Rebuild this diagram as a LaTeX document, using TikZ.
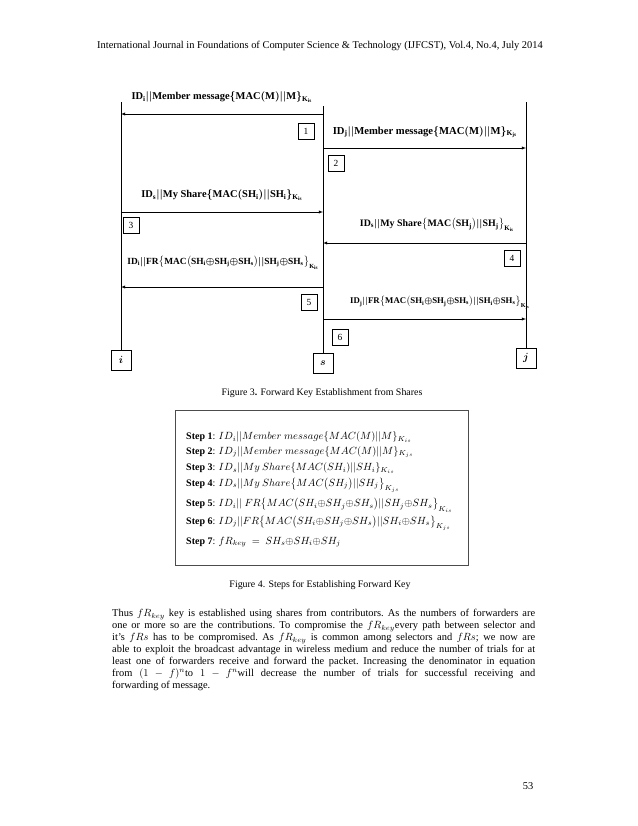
\documentclass[tikz,border=0pt]{standalone}
\usepackage{amsmath,amssymb}
\usepackage{fontspec}
\setmainfont{Liberation Serif}
\usetikzlibrary{positioning}

\begin{document}
\begin{tikzpicture}[x=0.9592pt,y=-0.9592pt,>=latex,
  numbox/.style={draw,minimum size=15pt,inner sep=0pt,font=\fontsize{9}{10}\selectfont},
  partybox/.style={draw,minimum size=19pt,inner sep=0pt},
  msg/.style={font=\fontsize{#1}{11}\selectfont\boldmath,inner sep=1pt},
  msg/.default=10,
  stepline/.style={anchor=west,inner sep=0pt,font=\fontsize{9.6}{12}\selectfont},
  plain/.style={font=\fontsize{10}{12}\selectfont,inner sep=0pt}]
\useasboundingbox[fill=white] (0,0) rectangle (638,826);
\node[plain] (header) at (320,46) {International Journal in Foundations of Computer Science \& Technology (IJFCST), Vol.4, No.4, July 2014};

% parties and lifelines
\node[partybox] (i) at (121,360) {$\boldsymbol{i}$};
\node[partybox] (s) at (323,363) {$\boldsymbol{s}$};
\node[partybox] (j) at (526,358) {$\boldsymbol{j}$};
\coordinate (itop) at (121,102);
\coordinate (stop) at (323,106);
\coordinate (jtop) at (526,102);
\draw (itop) -- (i.north);
\draw (stop) -- (s.north);
\draw (jtop) -- (j.north);

% messages
\foreach \y/\from/\to in {114/s/i,148/s/j,212/i/s,243/j/s,287/s/i,319/s/j}
  \draw[->] (\from |- 0,\y) -- (\to |- 0,\y);

\node[msg] (m1) at (222,97) {$\mathrm{ID_i||Member\ message\{MAC(M)||M\}_{K_{is}}}$};
\node[msg=10.2] (m2) at (425,132) {$\mathrm{ID_j||Member\ message\{MAC(M)||M\}_{K_{js}}}$};
\node[msg] (m3) at (222,195) {$\mathrm{ID_s||My\ Share\{MAC(SH_i)||SH_i\}_{K_{is}}}$};
\node[msg=9.5] (m4) at (437,225) {$\mathrm{ID_s||My\ Share\bigl\{MAC\bigl(SH_j\bigr)||SH_j\bigr\}_{K_{is}}}$};
\node[msg=9] (m5) at (223,263) {$\mathrm{ID_i||FR\bigl\{MAC\bigl(SH_i{\oplus}SH_j{\oplus}SH_s\bigr)||SH_j{\oplus}SH_s\bigr\}_{K_{is}}}$};
\node[msg=8.4] (m6) at (440,303) {$\mathrm{ID_j||FR\bigl\{MAC\bigl(SH_i{\oplus}SH_j{\oplus}SH_s\bigr)||SH_i{\oplus}SH_s\bigr\}_{K_{js}}}$};

\node[numbox] (n1) at (306,131) {1};
\node[numbox] (n2) at (336,163) {2};
\node[numbox] (n3) at (131,225) {3};
\node[numbox] (n4) at (512,258) {4};
\node[numbox] (n5) at (309,302) {5};
\node[numbox] (n6) at (340,337) {6};

\node[plain,font=\fontsize{9.5}{11}\selectfont] (cap3) at (322,393) {Figure 3\textbf{.} Forward Key Establishment from Shares};

% steps
\node[draw=black!70,line width=0.8pt,minimum width=293pt*0.9592,minimum height=155pt*0.9592,inner sep=0pt] (stepbox) at (321.5,487.5) {};
\node[stepline] (s1) at (186,437) {\textbf{Step 1}: $ID_i||Member\ message\{MAC(M)||M\}_{K_{is}}$};
\node[stepline] (s2) at (186,452) {\textbf{Step 2}: $ID_j||Member\ message\{MAC(M)||M\}_{K_{js}}$};
\node[stepline] (s3) at (186,468) {\textbf{Step 3}: $ID_s||My\ Share\{MAC(SH_i)||SH_i\}_{K_{is}}$};
\node[stepline] (s4) at (186,485) {\textbf{Step 4}: $ID_s||My\ Share\bigl\{MAC\bigl(SH_j\bigr)||SH_j\bigr\}_{K_{js}}$};
\node[stepline] (s5) at (186,505) {\textbf{Step 5}: $ID_i||\ FR\bigl\{MAC\bigl(SH_i{\oplus}SH_j{\oplus}SH_s\bigr)||SH_j{\oplus}SH_s\bigr\}_{K_{is}}$};
\node[stepline] (s6) at (186,523) {\textbf{Step 6}: $ID_j||FR\bigl\{MAC\bigl(SH_i{\oplus}SH_j{\oplus}SH_s\bigr)||SH_i{\oplus}SH_s\bigr\}_{K_{js}}$};
\node[stepline] (s7) at (186,542) {\textbf{Step 7}: $fR_{key}\ =\ SH_s{\oplus}SH_i{\oplus}SH_j$};

\node[plain,font=\fontsize{9.5}{11}\selectfont] (cap4) at (320,585) {Figure 4. Steps for Establishing Forward Key};

% text
\node[anchor=north west,inner sep=0pt,text width=423pt*0.9592,align=justify,font=\fontsize{10}{11.5}\selectfont\frenchspacing] (para) at (112,609)
{Thus $fR_{key}$ key is established using shares from contributors. As the numbers of forwarders are\linebreak
one or more so are the contributions. To compromise the $fR_{key}$every path between selector and\linebreak
it's $fRs$ has to be compromised. As $fR_{key}$ is common among selectors and $fRs$; we now are\linebreak
able to exploit the broadcast advantage in wireless medium and reduce the number of trials for at\linebreak
least one of forwarders receive and forward the packet. Increasing the denominator in equation\linebreak
from $(1-f)^n$to $1-f^n$will decrease the number of trials for successful receiving and\linebreak
forwarding of message.};

\node[plain] (pagenum) at (528,786) {53};
\end{tikzpicture}
\end{document}
